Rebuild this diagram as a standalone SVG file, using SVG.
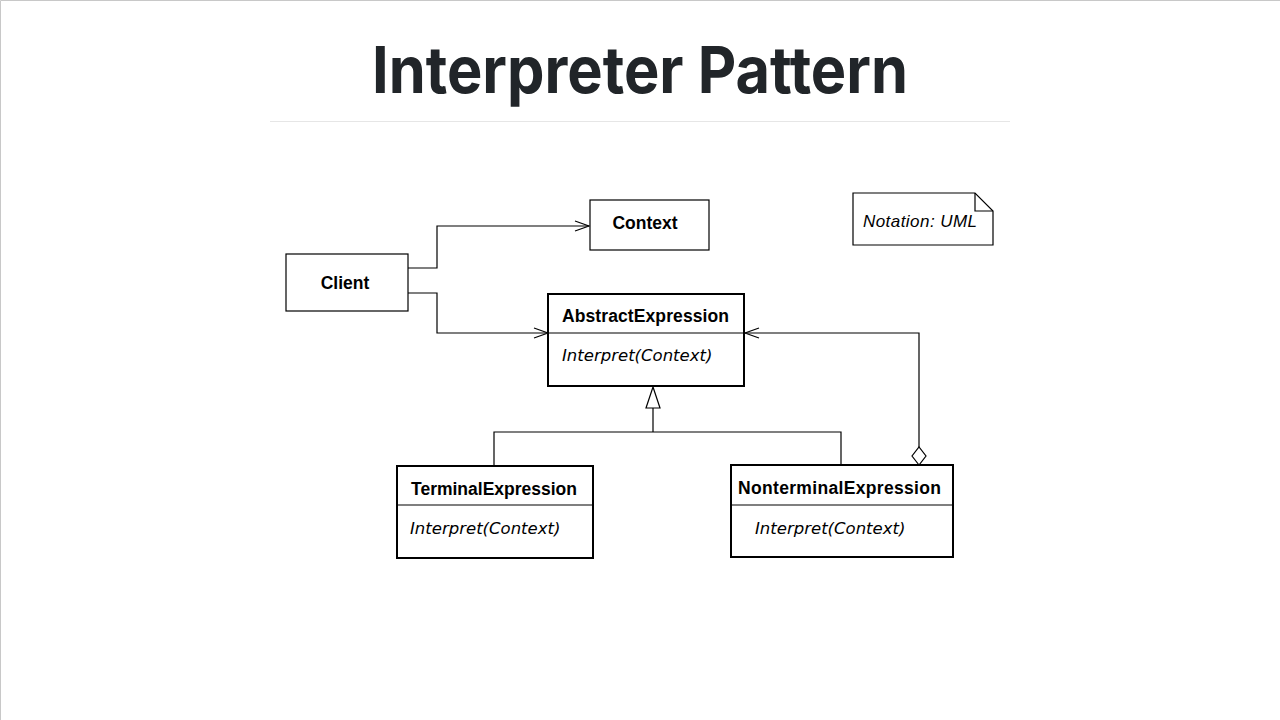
<svg xmlns="http://www.w3.org/2000/svg" width="1280" height="720" viewBox="0 0 1280 720">
<defs>
<style>
.box{fill:#fff;stroke:#000;stroke-width:1.2}
.box2{fill:#fff;stroke:#000;stroke-width:2}
.ln{fill:none;stroke:#000;stroke-width:1.2}
.nm{font-family:"Liberation Sans",Arial,sans-serif;font-weight:700;font-size:17.5px;fill:#000}
.op{font-family:"DejaVu Sans",sans-serif;font-style:italic;font-size:16.5px;fill:#000}
</style>
<marker id="open" markerWidth="16" markerHeight="12" refX="15" refY="6" orient="auto" markerUnits="userSpaceOnUse">
<path d="M1,1 L15,6 L1,11" fill="none" stroke="#000" stroke-width="1.2"/>
</marker>
</defs>
<rect x="0" y="0" width="1280" height="720" fill="#fff"/>
<path d="M0.5,720 V0.5 H1280" fill="none" stroke="#c8c8c8" stroke-width="1"/>
<text x="640" y="93" text-anchor="middle" font-family="Inter,'Liberation Sans',sans-serif" font-weight="700" font-size="65" fill="#212529" textLength="536" lengthAdjust="spacingAndGlyphs">Interpreter Pattern</text>
<line x1="270" y1="121.5" x2="1010" y2="121.5" stroke="#e6e6e6" stroke-width="1"/>

<g id="connectors">
<path class="ln" d="M408,268 H437 V226 H589" marker-end="url(#open)"/>
<path class="ln" d="M408,293 H437 V333 H548" marker-end="url(#open)"/>
<path class="ln" d="M653,408 V432 M494,466 V432 H841 V465"/>
<path d="M653,387 L646,408 H660 Z" fill="#fff" stroke="#000" stroke-width="1.2"/>
<path class="ln" d="M919,447 V333 H745" marker-end="url(#open)"/>
<path d="M919,465 L912,456 L919,447 L926,456 Z" fill="#fff" stroke="#000" stroke-width="1.2"/>
</g>

<g id="context">
<rect class="box" x="590" y="200" width="119" height="50"/>
<text class="nm" x="645" y="229" text-anchor="middle">Context</text>
</g>
<g id="client">
<rect class="box" x="286" y="254" width="122" height="57"/>
<text class="nm" x="345" y="289" text-anchor="middle">Client</text>
</g>
<g id="abstractexpression">
<rect class="box2" x="548" y="294" width="196" height="92"/>
<line x1="548" y1="333" x2="744" y2="333" stroke="#000" stroke-width="1.2"/>
<text class="nm" x="562" y="322" textLength="167">AbstractExpression</text>
<text class="op" x="562" y="361">Interpret(Context)</text>
</g>
<g id="terminalexpression">
<rect class="box2" x="397" y="466" width="196" height="92"/>
<line x1="397" y1="505" x2="593" y2="505" stroke="#000" stroke-width="1.2"/>
<text class="nm" x="411" y="495" textLength="166">TerminalExpression</text>
<text class="op" x="410" y="534">Interpret(Context)</text>
</g>
<g id="nonterminalexpression">
<rect class="box2" x="731" y="465" width="222" height="92"/>
<line x1="731" y1="505" x2="953" y2="505" stroke="#000" stroke-width="1.2"/>
<text class="nm" x="738" y="494" textLength="203">NonterminalExpression</text>
<text class="op" x="755" y="534">Interpret(Context)</text>
</g>
<g id="note">
<path d="M853,193 H975 L993,211 V245 H853 Z" fill="#fff" stroke="#000" stroke-width="1.2"/>
<path d="M975,193 V211 H993" fill="none" stroke="#000" stroke-width="1.2"/>
<text x="863" y="227" font-family="'Liberation Sans',Arial,sans-serif" font-style="italic" font-size="17" fill="#000" textLength="114">Notation: UML</text>
</g>
</svg>
